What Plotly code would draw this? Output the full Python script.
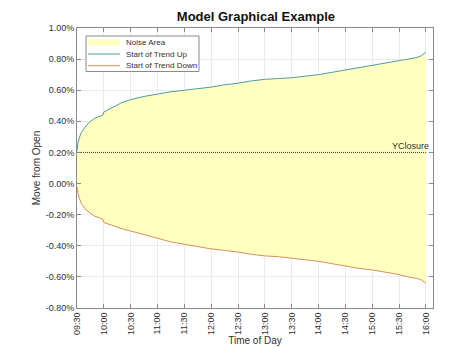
import plotly.graph_objects as go
import datetime as dt

# minutes after 09:30
minutes = [0, 1, 3, 5, 10, 15, 20, 25, 29, 30, 40, 50, 60, 75, 90, 105, 120, 135, 150,
           165, 180, 195, 210, 225, 240, 255, 270, 285, 300, 315, 330, 345, 360, 370,
           380, 385, 390]
trend_up = [0.21, 0.26, 0.30, 0.33, 0.37, 0.40, 0.42, 0.43, 0.44, 0.46, 0.49, 0.52, 0.54,
            0.56, 0.575, 0.59, 0.60, 0.61, 0.62, 0.635, 0.645, 0.66, 0.67, 0.675, 0.68,
            0.69, 0.70, 0.715, 0.73, 0.745, 0.758, 0.772, 0.788, 0.80, 0.81, 0.822, 0.845]
trend_down = [-0.02, -0.06, -0.10, -0.13, -0.17, -0.19, -0.21, -0.22, -0.23, -0.25, -0.27,
              -0.29, -0.305, -0.33, -0.355, -0.375, -0.39, -0.405, -0.42, -0.43, -0.44,
              -0.455, -0.465, -0.47, -0.48, -0.49, -0.50, -0.515, -0.53, -0.545, -0.555,
              -0.57, -0.585, -0.60, -0.61, -0.62, -0.64]
yclosure = 0.20
ytick_vals = [-0.8, -0.6, -0.4, -0.2, 0.0, 0.2, 0.4, 0.6, 0.8, 1.0]
ytick_text = ["-0.80%", "-0.60%", "-0.40%", "-0.20%", "0.00%", "0.20%", "0.40%", "0.60%",
              "0.80%", "1.00%"]
xtick_labels = ["09:30", "10:00", "10:30", "11:00", "11:30", "12:00", "12:30", "13:00",
                "13:30", "14:00", "14:30", "15:00", "15:30", "16:00"]
legend_names = ["Noise Area", "Start of Trend Up", "Start of Trend Down"]

FILL = "#ffffc0"
UP_COLOR = "#4f9aa6"
DOWN_COLOR = "#d98f5a"

base = dt.datetime(2020, 1, 2, 9, 30)
times = [base + dt.timedelta(minutes=m) for m in minutes]
xtick_vals = [dt.datetime(2020, 1, 2, int(s[:2]), int(s[3:])) for s in xtick_labels]

FONT = "Liberation Sans, Arial, sans-serif"
TXT = "#303030"

fig = go.Figure()
fig.add_trace(go.Scatter(x=times, y=trend_down, mode="lines", line=dict(width=0),
                         showlegend=False, hoverinfo="skip"))
fig.add_trace(go.Scatter(x=times, y=trend_up, mode="lines", line=dict(width=0),
                         fill="tonexty", fillcolor=FILL, name=legend_names[0]))
fig.add_trace(go.Scatter(x=times, y=trend_up, mode="lines",
                         line=dict(color=UP_COLOR, width=1), name=legend_names[1]))
fig.add_trace(go.Scatter(x=times, y=trend_down, mode="lines",
                         line=dict(color=DOWN_COLOR, width=1), name=legend_names[2]))
fig.add_trace(go.Scatter(x=[times[0], times[-1]], y=[yclosure, yclosure], mode="lines",
                         line=dict(color="#333333", width=1, dash="1px,1px"),
                         showlegend=False))

fig.add_annotation(x=times[-1], y=yclosure, text="YClosure", showarrow=False,
                   xanchor="right", yanchor="bottom", xshift=5, yshift=-1,
                   font=dict(family=FONT, size=9, color=TXT))

# Legend box (MATLAB-style compact legend) in paper coordinates
L_X0, L_X1, L_Y0, L_Y1 = 0.0253, 0.3427, 0.8446, 0.9714
ROW_Y = [0.9482, 0.9071, 0.8654]
SYM_X0, SYM_X1, TXT_X = 0.0309, 0.1208, 0.132
fig.add_shape(type="rect", xref="paper", yref="paper", x0=L_X0, x1=L_X1, y0=L_Y0, y1=L_Y1,
              fillcolor="white", line=dict(color="#8a8a8a", width=1), layer="above")
fig.add_shape(type="rect", xref="paper", yref="paper", x0=SYM_X0, x1=SYM_X1,
              y0=ROW_Y[0] - 0.012, y1=ROW_Y[0] + 0.012, fillcolor=FILL,
              line=dict(width=0), layer="above")
for ry, col in zip(ROW_Y[1:], [UP_COLOR, DOWN_COLOR]):
    fig.add_shape(type="line", xref="paper", yref="paper", x0=SYM_X0, x1=SYM_X1,
                  y0=ry, y1=ry, line=dict(color=col, width=1), layer="above")
for ry, name in zip(ROW_Y, legend_names):
    fig.add_annotation(xref="paper", yref="paper", x=TXT_X, y=ry, text=name,
                       showarrow=False, xanchor="left", yanchor="middle",
                       font=dict(family=FONT, size=8, color=TXT))

axis_common = dict(showline=True, linecolor="#8a8a8a", linewidth=1, mirror="allticks",
                   ticks="inside", ticklen=4, tickcolor="#8a8a8a", showgrid=True,
                   gridcolor="#ebebeb", gridwidth=1, zeroline=False, automargin=False,
                   tickfont=dict(family=FONT, size=9, color=TXT))

fig.update_layout(
    width=474, height=347,
    margin=dict(l=77, r=41, t=28, b=39),
    paper_bgcolor="white", plot_bgcolor="white",
    title=dict(text="<b>Model Graphical Example</b>", x=0.54, xanchor="center",
               y=0.965, yanchor="top", font=dict(family=FONT, size=13, color="#111111")),
    xaxis=dict(range=[base, base + dt.timedelta(minutes=398)], tickvals=xtick_vals,
               ticktext=xtick_labels, tickangle=-90,
               title=dict(text="Time of Day", font=dict(family=FONT, size=10, color=TXT),
                          standoff=2),
               **axis_common),
    yaxis=dict(range=[-0.8, 1.0], tickvals=ytick_vals, ticktext=ytick_text,
               title=dict(text="Move from Open", font=dict(family=FONT, size=10, color=TXT),
                          standoff=3),
               **axis_common),
    showlegend=False,
)

fig.write_html("out.html")
